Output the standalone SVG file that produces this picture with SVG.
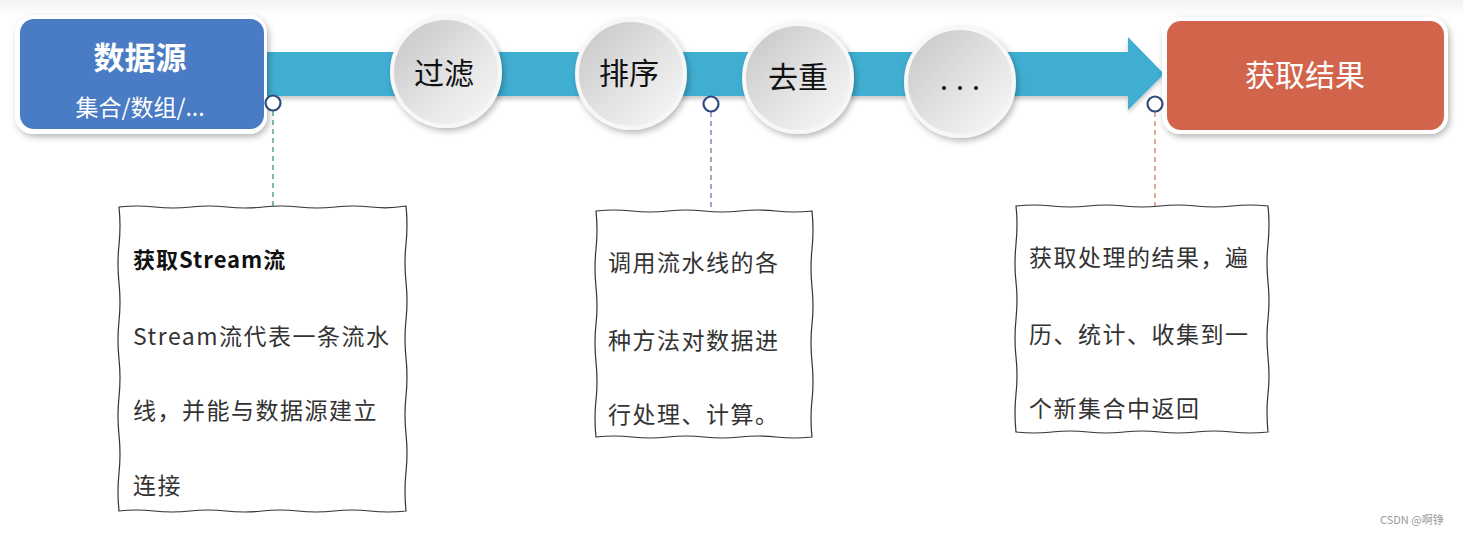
<svg xmlns="http://www.w3.org/2000/svg" width="1463" height="534" viewBox="0 0 1463 534">
<defs>
<linearGradient id="topfade" x1="0" y1="0" x2="0" y2="1"><stop offset="0" stop-color="#f2f2f2"/><stop offset="1" stop-color="#ffffff"/></linearGradient>
<linearGradient id="ball" x1="0" y1="0" x2="1" y2="1"><stop offset="0" stop-color="#c4c4c4"/><stop offset="0.55" stop-color="#e4e4e4"/><stop offset="1" stop-color="#fafafa"/></linearGradient>
<filter id="sh" x="-20%" y="-20%" width="150%" height="150%"><feDropShadow dx="2" dy="3" stdDeviation="3" flood-color="#000" flood-opacity="0.28"/></filter>
<filter id="shb" x="-5%" y="-30%" width="110%" height="170%"><feDropShadow dx="0" dy="3" stdDeviation="2" flood-color="#000" flood-opacity="0.22"/></filter>
</defs>
<style>
.cn{font-family:"Noto Sans CJK SC","Noto Sans",sans-serif}
.ball{fill:url(#ball);stroke:#f7f7f7;stroke-width:4;filter:url(#sh)}
.btxt{font-size:30px;fill:#111;text-anchor:middle}
.note{fill:#fff;stroke:#333;stroke-width:1.2}
.ntxt{font-size:23px;fill:#333;letter-spacing:1.5px}
.dot{fill:#fff;stroke:#2d4a7c;stroke-width:2.2}
.lead{fill:none;stroke-width:1.2;stroke-dasharray:5,4}
</style>
<rect width="1463" height="534" fill="#fff"/>
<rect width="1463" height="16" fill="url(#topfade)"/>

<g id="band">
<path d="M262,52 H1128 V37 L1164,74 L1128,110 V96 H262 Z" fill="#3faed1" filter="url(#shb)"/>
</g>

<g id="source">
<rect x="15" y="15" width="252" height="119" rx="18" fill="#fff" filter="url(#sh)"/>
<rect x="20" y="19" width="244" height="110" rx="14" fill="#4a7cc5"/>
<text class="cn" x="140" y="69" font-size="31" font-weight="bold" fill="#fff" text-anchor="middle">数据源</text>
<text class="cn" x="140" y="116" font-size="23" fill="#fff" text-anchor="middle">集合/数组/...</text>
</g>

<g id="result">
<rect x="1162" y="17" width="286" height="117" rx="18" fill="#fff" filter="url(#sh)"/>
<rect x="1167" y="21" width="277" height="109" rx="14" fill="#d3644c"/>
<text class="cn" x="1305" y="86" font-size="30" fill="#fff" text-anchor="middle">获取结果</text>
</g>

<g id="filter">
<circle class="ball" cx="446" cy="72" r="54"/>
<text class="cn btxt" x="444" y="84">过滤</text>
</g>
<g id="sort">
<circle class="ball" cx="631" cy="74" r="54"/>
<text class="cn btxt" x="629" y="84">排序</text>
</g>
<g id="distinct">
<circle class="ball" cx="798" cy="78" r="54"/>
<text class="cn btxt" x="798" y="88">去重</text>
</g>
<g id="more">
<circle class="ball" cx="960" cy="82" r="54"/>
<circle cx="944" cy="88" r="2" fill="#111"/>
<circle cx="960" cy="88" r="2" fill="#111"/>
<circle cx="976" cy="88" r="2" fill="#111"/>
</g>

<g id="connectors">
<line class="lead" x1="273" y1="111" x2="273" y2="206" stroke="#2e8b6e"/>
<line class="lead" x1="711" y1="112" x2="711" y2="211" stroke="#8a5a9a"/>
<line class="lead" x1="1155" y1="112" x2="1155" y2="206" stroke="#d0705a"/>
<circle class="dot" cx="273" cy="103" r="7.5"/>
<circle class="dot" cx="711" cy="104" r="7.5"/>
<circle class="dot" cx="1155" cy="104" r="7.5"/>
</g>

<g id="note1">
<path class="note" d="M119,207 Q137,205 155,207 T191,207 T227,207 T263,207 T299,207 T335,207 T371,207 T406,206 Q408,225 406,244 T406,282 T406,320 T406,358 T406,396 T406,434 T406,472 T406,511 Q388,513 370,511 T334,511 T298,511 T262,511 T226,511 T190,511 T154,511 T119,511 Q117,492 119,473 T119,435 T119,397 T119,359 T119,321 T119,283 T119,245 T119,207 Z"/>
<text class="cn" x="133" y="268" font-size="22" font-weight="bold" fill="#111" letter-spacing="1">获取Stream流</text>
<text class="cn ntxt" x="133" y="345">Stream流代表一条流水</text>
<text class="cn ntxt" x="133" y="419">线，并能与数据源建立</text>
<text class="cn ntxt" x="133" y="494">连接</text>
</g>

<g id="note2">
<path class="note" d="M596,211 Q614,209 632,211 T668,211 T704,211 T740,211 T776,211 T812,211 Q814,230 812,249 T812,287 T812,324 T812,362 T812,400 T812,437 Q794,439 776,437 T740,437 T704,437 T668,437 T632,437 T596,437 Q594,418 596,400 T596,362 T596,324 T596,287 T596,249 T596,211 Z"/>
<text class="cn ntxt" x="608" y="271">调用流水线的各</text>
<text class="cn ntxt" x="608" y="349">种方法对数据进</text>
<text class="cn ntxt" x="608" y="423">行处理、计算。</text>
</g>

<g id="note3">
<path class="note" d="M1016,206 Q1034,204 1052,206 T1088,206 T1124,206 T1160,206 T1196,206 T1232,206 T1268,206 Q1270,225 1268,244 T1268,282 T1268,319 T1268,357 T1268,394 T1268,432 Q1250,434 1232,432 T1196,432 T1160,432 T1124,432 T1088,432 T1052,432 T1016,432 Q1014,413 1016,394 T1016,357 T1016,319 T1016,282 T1016,244 T1016,206 Z"/>
<text class="cn ntxt" x="1029" y="266">获取处理的结果，遍</text>
<text class="cn ntxt" x="1029" y="343">历、统计、收集到一</text>
<text class="cn ntxt" x="1029" y="417">个新集合中返回</text>
</g>

<text class="cn" x="1380" y="524" font-size="11" fill="#999">CSDN @啊铮</text>
</svg>
